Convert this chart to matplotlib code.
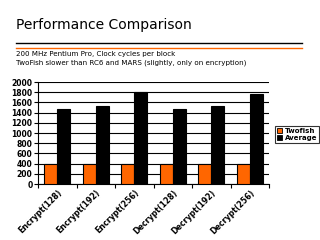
import numpy as np
import matplotlib
matplotlib.use("Agg")
from matplotlib import pyplot as plt
from matplotlib.patches import Patch

categories = ["Encrypt(128)", "Encrypt(192)", "Encrypt(256)",
              "Decrypt(128)", "Decrypt(192)", "Decrypt(256)"]
twofish = [390, 390, 390, 390, 390, 390]
average = [1465, 1530, 1800, 1470, 1525, 1770]
y_ticks = list(range(0, 2001, 200))

ORANGE = "#ff6600"

fig = plt.figure(figsize=(3.2, 2.4), dpi=100)

# title block
fig.text(0.05, 0.895, "Performance Comparison", fontsize=10, ha="left", va="center")
fig.add_artist(plt.Line2D([0.05, 0.945], [0.82, 0.82], color="black", lw=1))
fig.add_artist(plt.Line2D([0.05, 0.945], [0.799, 0.799], color=ORANGE, lw=1))
fig.text(0.05, 0.773, "200 MHz Pentium Pro, Clock cycles per block", fontsize=5.1, va="center")
fig.text(0.05, 0.737, "TwoFish slower than RC6 and MARS (slightly, only on encryption)",
         fontsize=5.1, va="center")

ax = fig.add_axes([0.119, 0.233, 0.722, 0.425])
x = np.arange(len(categories))
w = 0.34
ax.bar(x - w / 2, twofish, w, color=ORANGE, edgecolor="black", lw=0.8, zorder=3)
ax.bar(x + w / 2, average, w, color="black", edgecolor="black", lw=0.8, zorder=3)

ax.set_xlim(-0.5, len(categories) - 0.5)
ax.set_ylim(0, 2000)
ax.set_yticks(y_ticks)
ax.set_yticklabels([str(t) for t in y_ticks], fontsize=5.5, fontweight="bold")
ax.yaxis.grid(True, color="black", lw=0.8, zorder=0)
ax.set_axisbelow(True)

ax.set_xticks(x)
ax.set_xticklabels(categories, rotation=45, ha="right", rotation_mode="anchor",
                   fontsize=5.7, fontweight="bold")
ax.set_xticks(np.arange(len(categories) + 1) - 0.5, minor=True)
ax.tick_params(axis="x", which="major", length=0, pad=3)
ax.tick_params(axis="x", which="minor", length=3, width=0.8)
ax.tick_params(axis="y", length=3, width=0.8, pad=1)

for s in ["top", "right"]:
    ax.spines[s].set_visible(False)
ax.spines["left"].set_linewidth(0.8)
ax.spines["bottom"].set_linewidth(0.8)

handles = [Patch(facecolor=ORANGE, edgecolor="black", lw=0.6, label="Twofish"),
           Patch(facecolor="black", edgecolor="black", lw=0.6, label="Average")]
leg = fig.legend(handles=handles, loc="center left", bbox_to_anchor=(0.848, 0.44),
                 frameon=True, fancybox=False, edgecolor="black",
                 handlelength=0.8, handleheight=0.8, handletextpad=0.3,
                 borderpad=0.3, labelspacing=0.2, prop={"size": 5, "weight": "bold"})
leg.get_frame().set_linewidth(0.8)

fig.savefig("out.png", dpi=100)
